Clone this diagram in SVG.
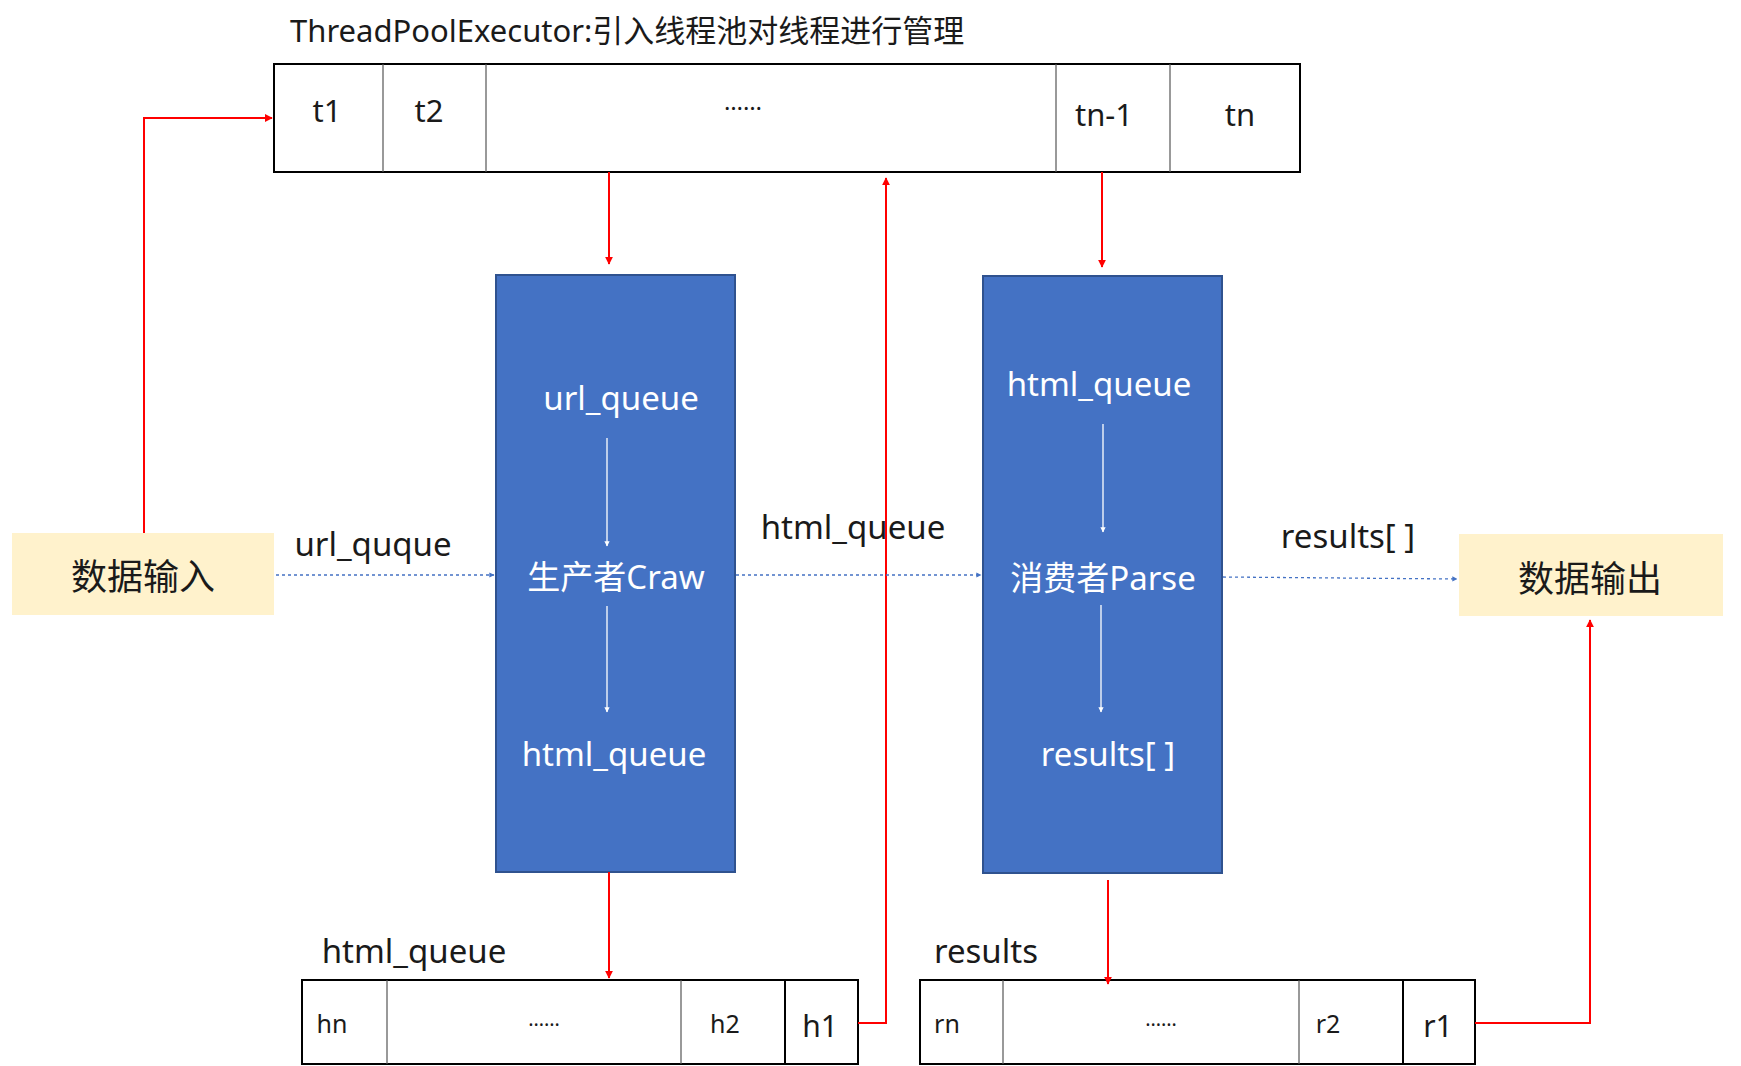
<svg xmlns="http://www.w3.org/2000/svg" width="1741" height="1066" viewBox="0 0 1741 1066">
<defs>
<marker id="ar" viewBox="0 0 10 10" refX="9" refY="5" markerWidth="4" markerHeight="4" orient="auto"><path d="M0,0L10,5L0,10z" fill="#ff0000"/></marker>
<marker id="ab" viewBox="0 0 10 10" refX="9" refY="5" markerWidth="4" markerHeight="4" orient="auto"><path d="M0,0L10,5L0,10z" fill="#4472c4"/></marker>
<marker id="aw" viewBox="0 0 10 10" refX="9" refY="5" markerWidth="4" markerHeight="4" orient="auto"><path d="M0,0L10,5L0,10z" fill="#ffffff"/></marker>
</defs>
<style>
text{font-family:"Noto Sans","Noto Sans CJK SC",sans-serif;text-anchor:middle;dominant-baseline:central;fill:#1a1a1a}
.box{fill:#fff;stroke:#000;stroke-width:2}
.div{stroke:#555;stroke-width:1.2}
.blue{fill:#4472c4;stroke:#2f528f;stroke-width:2}
.yel{fill:#fff2cc}
.w{fill:#fff;font-size:33px}
.red{stroke:#ff0000;stroke-width:2;fill:none}
.dash{stroke:#4472c4;stroke-width:1.3;stroke-dasharray:3 3;fill:none}
.wl{stroke:#fff;stroke-width:1.3}
</style>
<rect width="1741" height="1066" fill="#fff"/>
<text x="290" y="30" style="text-anchor:start;font-size:31px">ThreadPoolExecutor:引入线程池对线程进行管理</text>
<g id="pool">
<rect class="box" x="274" y="64" width="1026" height="108"/>
<line class="div" x1="383" y1="64" x2="383" y2="172"/><line class="div" x1="486" y1="64" x2="486" y2="172"/>
<line class="div" x1="1056" y1="64" x2="1056" y2="172"/><line class="div" x1="1170" y1="64" x2="1170" y2="172"/>
<text x="327" y="110" font-size="31">t1</text><text x="429" y="110" font-size="31">t2</text>
<text x="743" y="100" font-size="24">……</text><text x="1104" y="114" font-size="31">tn-1</text><text x="1240" y="114" font-size="31">tn</text>
</g>
<g id="input"><rect class="yel" x="12" y="533" width="262" height="82"/><text x="143" y="576" font-size="36">数据输入</text></g>
<g id="output"><rect class="yel" x="1459" y="534" width="264" height="82"/><text x="1590" y="578" font-size="36">数据输出</text></g>
<g id="producer"><rect class="blue" x="496" y="275" width="239" height="597"/>
<text class="w" x="621" y="397">url_queue</text><text class="w" x="616" y="576">生产者Craw</text><text class="w" x="614" y="753">html_queue</text>
<line class="wl" x1="607" y1="438" x2="607" y2="546" marker-end="url(#aw)"/><line class="wl" x1="607" y1="606" x2="607" y2="712" marker-end="url(#aw)"/></g>
<g id="consumer"><rect class="blue" x="983" y="276" width="239" height="597"/>
<text class="w" x="1099" y="383">html_queue</text><text class="w" x="1103" y="577">消费者Parse</text><text class="w" x="1108" y="753">results[ ]</text>
<line class="wl" x1="1103" y1="424" x2="1103" y2="532" marker-end="url(#aw)"/><line class="wl" x1="1101" y1="605" x2="1101" y2="712" marker-end="url(#aw)"/></g>
<g id="hq"><rect class="box" x="302" y="980" width="556" height="84"/>
<line class="div" x1="387" y1="980" x2="387" y2="1064"/><line class="div" x1="681" y1="980" x2="681" y2="1064"/><line x1="785" y1="980" x2="785" y2="1064" stroke="#000" stroke-width="2"/>
<text x="332" y="1023" font-size="25">hn</text><text x="544" y="1018" font-size="20">……</text><text x="725" y="1023" font-size="25">h2</text><text x="820" y="1025" font-size="30">h1</text></g>
<g id="rq"><rect class="box" x="920" y="980" width="555" height="84"/>
<line class="div" x1="1003" y1="980" x2="1003" y2="1064"/><line class="div" x1="1299" y1="980" x2="1299" y2="1064"/><line x1="1403" y1="980" x2="1403" y2="1064" stroke="#000" stroke-width="2"/>
<text x="947" y="1023" font-size="25">rn</text><text x="1161" y="1018" font-size="20">……</text><text x="1328" y="1023" font-size="25">r2</text><text x="1438" y="1025" font-size="30">r1</text></g>
<text x="373" y="543" font-size="33">url_quque</text><text x="853" y="526" font-size="33">html_queue</text><text x="1348" y="535" font-size="33">results[ ]</text>
<text x="414" y="950" font-size="33">html_queue</text><text x="986" y="950" font-size="33">results</text>
<g id="connectors">
<path class="red" d="M144,533V118H272" marker-end="url(#ar)"/>
<path class="red" d="M609,172V264" marker-end="url(#ar)"/>
<path class="red" d="M1102,172V267" marker-end="url(#ar)"/>
<path class="red" d="M858,1023H886V178" marker-end="url(#ar)"/>
<path class="red" d="M609,872V978" marker-end="url(#ar)"/>
<path class="red" d="M1108,880V984" marker-end="url(#ar)"/>
<path class="red" d="M1475,1023H1590V620" marker-end="url(#ar)"/>
<path class="dash" d="M276,575H494" marker-end="url(#ab)"/>
<path class="dash" d="M736,575H981" marker-end="url(#ab)"/>
<path class="dash" d="M1223,577L1457,579" marker-end="url(#ab)"/>
</g>
</svg>
